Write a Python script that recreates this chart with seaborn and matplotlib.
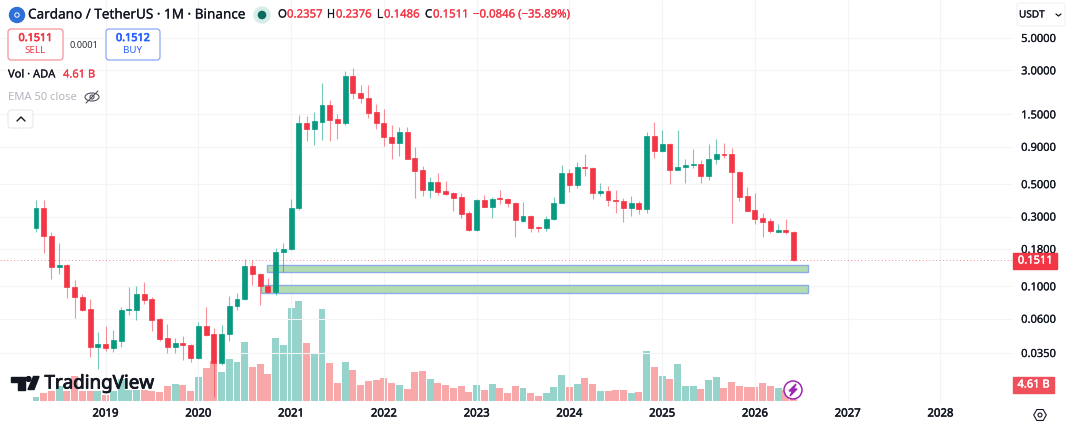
import numpy as np
import pandas as pd
import matplotlib
matplotlib.use("Agg")
import matplotlib.pyplot as plt
import matplotlib.patheffects as pe
from matplotlib.patches import Circle, FancyBboxPatch, Polygon, Rectangle, Ellipse, RegularPolygon
import seaborn as sns

# ADA/USDT monthly candles, April 2018 to June 2026
opens = [.251, .344, .222, .1359, .1403, .0992, .0848, .0702, .0385, .0404,
         .0380, .0424, .0691, .0691, .0888, .0821, .0600, .0444, .0385, .0410,
         .0397, .0324, .0537, .0474, .0300, .0474, .0735, .0821, .1381, .1218,
         .1008, .0917, .172, .1805, .344, 1.312, 1.193, 1.333, 1.741, 1.397,
         1.312, 2.749, 2.104, 1.944, 1.559, 1.312, 1.052, .958, 1.138, .756,
         .626, .457, .519, .450, .436, .409, .318, .243, .390, .350,
         .403, .397, .372, .280, .303, .255, .251, .289, .372, .597,
         .495, .656, .646, .436, .450, .390, .384, .344, .372, .339,
         1.067, .844, .943, .626, .656, .677, .688, .570, .744, .805,
         .805, .607, .416, .334, .294, .280, .236, .243, .2357]
highs = [.390, .390, .236, .198, .1425, .1108, .0888, .0821, .0489, .0537,
         .0504, .0724, .0992, .1008, .1074, .0848, .0610, .0555, .0444, .0459,
         .0404, .0572, .0724, .0520, .0546, .0861, .0902, .1542, .1517, .1237,
         .1143, .183, .198, .397, 1.488, 1.464, 1.559, 2.462, 1.884, 1.511,
         2.974, 3.118, 2.386, 2.386, 1.769, 1.635, 1.271, 1.231, 1.231, .899,
         .667, .561, .597, .527, .443, .436, .328, .397, .422, .409,
         .457, .400, .378, .378, .308, .258, .303, .409, .677, .636,
         .710, .805, .650, .511, .487, .457, .403, .416, .384, 1.138,
         1.333, 1.175, .958, 1.175, .744, .871, .733, .943, 1.020, .958,
         .885, .616, .479, .436, .318, .294, .267, .289, .2376]
lows = [.236, .170, .1125, .1218, .0834, .0609, .0680, .0329, .0273, .0362,
        .0357, .0385, .0639, .0590, .0759, .0496, .0424, .0352, .0352, .0314,
        .0305, .0319, .0459, .0176, .0291, .0424, .0691, .0808, .1024, .0747,
        .0902, .0875, .1257, .178, .334, .988, .928, 1.004, .988, 1.020,
        1.271, 1.914, 1.797, 1.419, 1.193, .914, .744, .780, .740, .403,
        .416, .403, .422, .422, .328, .294, .240, .240, .348, .294,
        .367, .350, .218, .276, .236, .236, .240, .285, .370, .443,
        .4715, .570, .397, .416, .355, .318, .276, .303, .313, .318,
        .756, .831, .503, .622, .511, .646, .511, .535, .688, .756,
        .272, .384, .326, .267, .218, .232, .234, .229, .1486]
closes = [.344, .222, .1359, .1403, .0992, .0848, .0691, .0385, .0404, .0380,
          .0431, .0691, .0702, .0888, .0808, .0590, .0437, .0385, .0410, .0397,
          .0324, .0537, .0466, .0300, .0474, .0735, .0821, .1381, .1218, .1008,
          .0917, .172, .1805, .344, 1.312, 1.193, 1.354, 1.741, 1.375, 1.312,
          2.749, 2.104, 1.944, 1.535, 1.312, 1.052, .958, 1.138, .744, .616,
          .457, .519, .443, .429, .403, .313, .243, .390, .350, .397,
          .397, .372, .285, .303, .251, .251, .289, .372, .597, .495,
          .656, .646, .436, .450, .390, .384, .344, .372, .339, 1.067,
          .844, .943, .626, .656, .677, .688, .570, .744, .805, .793,
          .607, .409, .328, .289, .276, .240, .243, .2357, .1511]
# Monthly traded volume, billions of ADA
volumes = [1.3, 2.7, 3.2, 4.6, 3.2, 7.7, 3.2, 3.2, 3.2, 2.0,
           3.3, 6.8, 3.5, 3.5, 3.5, 3.3, 3.0, 4.7, 5.3, 4.9,
           3.2, 7.4, 10.1, 12.4, 9.1, 13.1, 12.0, 18.1, 10.6, 11.5,
           8.4, 19.4, 17.2, 28.6, 30.7, 17.9, 14.5, 28.2, 11.8, 5.6,
           12.2, 9.6, 5.1, 6.2, 6.5, 7.2, 5.5, 5.1, 3.7, 8.9,
           9.4, 7.0, 5.5, 5.0, 4.1, 4.7, 2.9, 5.1, 3.5, 5.3,
           4.1, 2.5, 4.8, 4.1, 2.5, 1.7, 2.4, 4.5, 8.0, 4.5,
           5.2, 7.3, 5.2, 3.2, 3.1, 3.6, 3.4, 2.5, 2.9, 15.4,
           10.4, 7.9, 6.7, 11.3, 4.7, 4.7, 3.8, 6.4, 7.5, 4.1,
           5.9, 4.8, 4.3, 4.5, 5.6, 4.8, 4.1, 3.6, 4.61]

price_ticks = [5.0, 3.0, 1.5, 0.9, 0.5, 0.3, 0.18, 0.1, 0.06, 0.035]
year_labels = ["2019", "2020", "2021", "2022", "2023", "2024", "2025", "2026", "2027", "2028"]
year_months = [9, 21, 33, 45, 57, 69, 81, 93, 105, 117]

# Support zones as (first month, last month, lower price, upper price)
upper_zone = (29.9, 99.85, 0.1257, 0.1403)
lower_zone = (29.1, 99.85, 0.0902, 0.1024)

UP, DOWN = "#089981", "#F23645"
VOL_UP, VOL_DOWN = "#95D3CB", "#F9A8AA"
INK = "#131722"

sns.set_theme(style="whitegrid")
plt.rcParams["font.family"] = ["Noto Sans", "DejaVu Sans"]

W, H = 1068, 426
fig = plt.figure(figsize=(W / 100, H / 100), dpi=100, facecolor="white")
plot_right, plot_bottom = 1012, 403
ax = fig.add_axes([0, 1 - plot_bottom / H, plot_right / W, plot_bottom / H])
ax_vol = ax.twinx()
ax.set_zorder(2)
ax_vol.set_zorder(1)
ax.patch.set_visible(False)

df = pd.DataFrame({"month": np.arange(len(opens)), "open": opens, "high": highs,
                   "low": lows, "close": closes, "volume": volumes})
df["side"] = np.where(df["close"] >= df["open"], "up", "down")

# Volume histogram along the bottom of the pane
sns.barplot(data=df, x="month", y="volume", hue="side", dodge=False, native_scale=True,
            palette={"up": VOL_UP, "down": VOL_DOWN}, width=0.9, saturation=1,
            errorbar=None, legend=False, linewidth=0, ax=ax_vol)
ax_vol.set_ylim(-0.52, 123.2)
ax_vol.set_yticks([])
ax_vol.set_ylabel("")
ax_vol.grid(False)

# Candles: wicks first, bodies over them
colors = df["side"].map({"up": UP, "down": DOWN})
ax.set_yscale("log")
ax.vlines(df["month"], df["low"], df["high"], colors=colors, linewidth=0.8, alpha=0.55, zorder=3)
ax.bar(df["month"], df["close"] - df["open"], bottom=df["open"], width=0.64, color=colors,
       edgecolor=colors, linewidth=0.5, zorder=4)

for first, last, low, high in (upper_zone, lower_zone):
    ax.add_patch(Rectangle((first, low), last - first, high - low, facecolor="#B3DDB0",
                           edgecolor="#8DABE8", linewidth=1.0, zorder=2))

ax.axhline(closes[-1], color=DOWN, linestyle=(0, (1, 2.5)), linewidth=0.7, alpha=0.6, zorder=1.5)

ax.set_xlim(-4.657, 126.26)
ax.set_ylim(0.01592, 9.09)
ax.yaxis.tick_right()
ax.set_yticks(price_ticks)
ax.set_yticklabels([f"{p:.4f}" for p in price_ticks])
ax.minorticks_off()
ax.set_xticks(year_months)
ax.set_xticklabels(year_labels)
ax.tick_params(axis="y", length=0, pad=6.6, labelsize=8, labelcolor=INK)
ax.tick_params(axis="x", length=0, pad=4, labelsize=8.2, labelcolor=INK)
for tick_label in ax.get_yticklabels():
    tick_label.set_path_effects([pe.withStroke(linewidth=0.15, foreground=INK)])
for tick_label in ax.get_xticklabels():
    tick_label.set_path_effects([pe.withStroke(linewidth=0.35, foreground=INK)])
ax.set_xlabel("")
ax.set_ylabel("")
ax.grid(True, color="#F3F4F6", linewidth=0.8)
ax_vol.set_xlabel("")
for a in (ax, ax_vol):
    for spine in a.spines.values():
        spine.set_visible(False)
ax_vol.tick_params(axis="x", bottom=False, labelbottom=False)

# Interface layer in pixel coordinates
ui = fig.add_axes([0, 0, 1, 1], zorder=5)
ui.set_xlim(0, W)
ui.set_ylim(H, 0)
ui.axis("off")


def label(x, y, s, size=8.2, color=INK, ha="left", stroke=0.0):
    t = ui.text(x, y, s, fontsize=size, color=color, ha=ha, va="center")
    if stroke:
        t.set_path_effects([pe.withStroke(linewidth=stroke, foreground=color)])
    return t


def button(x0, y0, x1, y1, edge, radius=3):
    ui.add_patch(FancyBboxPatch((x0 + radius, y0 + radius), x1 - x0 - 2 * radius, y1 - y0 - 2 * radius,
                                boxstyle=f"round,pad={radius}", facecolor="white", edgecolor=edge, linewidth=0.8))


# Title row
ui.add_patch(Circle((17, 15), 7.5, color="#2F6FD8"))
ui.add_patch(Circle((17, 15), 2.2, facecolor="none", edgecolor="white", linewidth=0.7))
label(28, 15, "Cardano / TetherUS · 1M · Binance", size=9.75, stroke=0.15)
ui.add_patch(Circle((262, 15), 8, color="#D6EDEA"))
ui.add_patch(Circle((262, 15), 3.6, color="#0B6B5E"))
for x_key, x_val, key, val in ((278, 287, "O", "0.2357"), (327, 336, "H", "0.2376"),
                               (377, 384, "L", "0.1486"), (425, 433, "C", "0.1511")):
    label(x_key, 15, key, stroke=0.15)
    label(x_val, 15, val, color=DOWN, stroke=0.15)
label(473, 15, "−0.0846 (−35.89%)", color=DOWN, stroke=0.15)

# Sell and buy buttons
button(8, 29, 63, 60, "#F4858F")
label(35.5, 38.5, "0.1511", size=7.8, color=DOWN, ha="center", stroke=0.5)
label(35.5, 50.5, "SELL", size=7, color=DOWN, ha="center")
label(84, 45, "0.0001", size=6.6, color="#2A2E39", ha="center")
button(106, 29, 160, 60, "#7F9EF5")
label(133, 38.5, "0.1512", size=7.8, color="#2962FF", ha="center", stroke=0.5)
label(133, 50.5, "BUY", size=7, color="#2962FF", ha="center")

# Indicator legend
label(8, 75, "Vol · ADA", size=8, stroke=0.15)
label(63, 75, "4.61 B", size=8, color=DOWN, stroke=0.15)
label(8, 97, "EMA 50 close", size=8, color="#B2B5BE")
ui.add_patch(Ellipse((92, 97), 14, 8, facecolor="none", edgecolor="#50535E", linewidth=0.8))
ui.add_patch(Circle((92, 97), 2, facecolor="none", edgecolor="#50535E", linewidth=0.8))
ui.plot([86, 98], [103, 91], color="#50535E", linewidth=0.8)
button(8, 110, 33, 128, "#E6E8EE")
ui.plot([17, 21, 25], [121, 117, 121], color=INK, linewidth=1)

# Currency selector
button(1017, 3, 1065, 26, "#F0F1F4")
label(1019, 15, "USDT", size=7.2, stroke=0.15)
ui.plot([1056, 1058.5, 1061], [14, 16, 14], color=INK, linewidth=0.9)

# Axis flags for the last price and last volume
ui.add_patch(Rectangle((1013, 253), 44, 16, color=DOWN))
label(1035, 261, "0.1511", size=8, color="white", ha="center", stroke=0.3)
ui.add_patch(Rectangle((1013, 377), 41, 16, color="#F0505C"))
label(1033.5, 385, "4.61 B", size=8, color="white", ha="center", stroke=0.3)

# Settings glyph in the corner
ui.add_patch(RegularPolygon((1040, 415), 6, radius=6.3, orientation=np.pi / 6, facecolor="none",
                            edgecolor=INK, linewidth=0.8))
ui.add_patch(Circle((1040, 415), 2, facecolor="none", edgecolor=INK, linewidth=0.8))

# Lightning badge over the last volume bars
ui.add_patch(Circle((793, 390), 9, facecolor="white", edgecolor="#9C27B0", linewidth=1.1))
ui.add_patch(Polygon([(796, 384), (789, 391), (792.5, 391), (790, 396), (797, 389), (793.5, 389)], color="#9C27B0"))

# Platform logo
ui.add_patch(Polygon([(11, 376.5), (25, 376.5), (25, 389.5), (18, 389.5), (18, 381.5), (11, 381.5)], color=INK))
ui.add_patch(Circle((28.5, 379), 2.4, color=INK))
ui.add_patch(Polygon([(28, 389.5), (34, 389.5), (39, 376.5), (33.5, 376.5)], color=INK))
label(44.5, 383.5, "TradingView", size=13.5, stroke=0.6)

fig.savefig("out.png", dpi=100)
